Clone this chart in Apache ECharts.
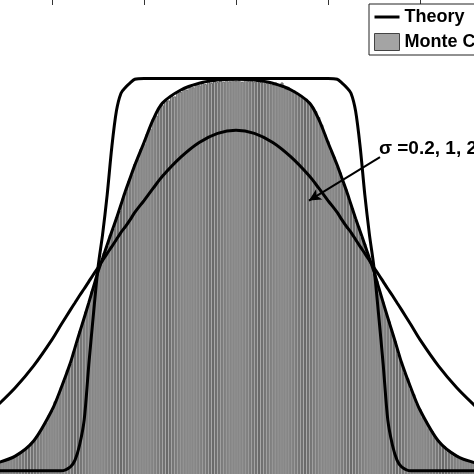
<!DOCTYPE html>
<html><head><meta charset="utf-8">
<script src="https://cdn.jsdelivr.net/npm/echarts@6/dist/echarts.min.js"></script>
<style>html,body{margin:0;padding:0;background:#fff;overflow:hidden}#c{width:474px;height:474px}</style>
</head><body><div id="c"></div>
<script>
// ---- data ----
const xTicks = [-3, -2, -1, 0, 1, 2, 3];
const xTheory = [-2.6,-2.4,-2.2,-2.0,-1.9,-1.8,-1.75,-1.7,-1.65,-1.6,-1.55,-1.5,-1.45,-1.4,-1.35,-1.3,-1.25,-1.2,-1.15,-1.1,-1.0,-0.9,-0.8,-0.6,-0.4,-0.2,
  0,
  0.2,0.4,0.6,0.8,0.9,1.0,1.1,1.15,1.2,1.25,1.3,1.35,1.4,1.45,1.5,1.55,1.6,1.65,1.7,1.75,1.8,1.9,2.0,2.2,2.4,2.6];
const theorySigma02 = [0.013,0.013,0.013,0.013,0.013,0.023,0.040,0.078,0.141,0.280,0.406,0.524,0.608,0.708,0.827,0.918,0.963,0.978,0.989,0.998,1.000,1.000,1.000,1.000,1.000,1.000,
  1.000,
  1.000,1.000,1.000,1.000,1.000,1.000,0.998,0.989,0.978,0.963,0.918,0.827,0.708,0.608,0.524,0.406,0.280,0.141,0.078,0.040,0.023,0.013,0.013,0.013,0.013,0.013];
const theorySigma1 = [0.033,0.050,0.088,0.166,0.222,0.285,0.323,0.361,0.398,0.436,0.475,0.514,0.548,0.582,0.615,0.648,0.683,0.718,0.750,0.782,0.839,0.897,0.938,0.971,0.988,0.996,
  0.998,
  0.996,0.988,0.971,0.938,0.897,0.839,0.782,0.750,0.718,0.683,0.648,0.615,0.582,0.548,0.514,0.475,0.436,0.398,0.361,0.323,0.285,0.222,0.166,0.088,0.050,0.033];
const theorySigma2 = [0.176,0.222,0.277,0.343,0.381,0.418,0.436,0.454,0.471,0.489,0.507,0.524,0.542,0.560,0.577,0.595,0.613,0.628,0.645,0.663,0.693,0.724,0.754,0.802,0.839,0.862,
  0.870,
  0.862,0.839,0.802,0.754,0.724,0.693,0.663,0.645,0.628,0.613,0.595,0.577,0.560,0.542,0.524,0.507,0.489,0.471,0.454,0.436,0.418,0.381,0.343,0.277,0.222,0.176];
const mcStart = -2.6;
const mcBin = 1 / 30;
const mcDensity = [
  0.034,0.036,0.037,0.041,0.042,0.048,0.051,0.054,0.061,0.066,
  0.072,0.082,0.087,0.101,0.110,0.124,0.135,0.153,0.165,0.188,
  0.201,0.224,0.241,0.267,0.283,0.313,0.333,0.364,0.384,0.414,
  0.433,0.465,0.486,0.517,0.534,0.562,0.579,0.607,0.623,0.651,
  0.668,0.698,0.715,0.742,0.758,0.785,0.797,0.823,0.836,0.861,
  0.874,0.899,0.907,0.926,0.933,0.946,0.945,0.957,0.955,0.968,
  0.966,0.977,0.972,0.982,0.978,0.987,0.983,0.991,0.986,0.994,
  0.989,0.993,0.991,0.995,0.992,0.996,0.993,0.997,
  0.995,
  0.996,0.992,0.997,0.994,0.998,0.992,0.996,0.991,0.995,0.989,
  0.993,0.985,0.990,0.984,0.990,0.975,0.979,0.969,0.970,0.962,
  0.958,0.951,0.949,0.940,0.930,0.918,0.903,0.884,0.860,0.843,
  0.818,0.804,0.779,0.764,0.736,0.721,0.692,0.674,0.645,0.629,
  0.601,0.585,0.556,0.540,0.511,0.491,0.459,0.439,0.408,0.389,
  0.358,0.339,0.307,0.288,0.261,0.246,0.219,0.206,0.182,0.169,
  0.148,0.139,0.120,0.113,0.097,0.090,0.078,0.075,0.063,0.062,
  0.053,0.052,0.045,0.044,0.039,0.039,0.034,0.034];
const legendNames = ['Theory', 'Monte Carlo'];
const annotationText = 'σ =0.2, 1, 2';

// ---- chart ----
const chart = echarts.init(document.getElementById('c'), null, {renderer: 'canvas'});
const gridLeft = -40, gridRight = -38;
const xMin = xTicks[0], xMax = xTicks[xTicks.length - 1];
const gridWidth = 474 - gridLeft - gridRight;
const barPx = gridWidth / (xMax - xMin) * mcBin;

const mcData = mcDensity.map((v, i) => [mcStart + i * mcBin, v]);
const lineSeries = (ys, extra) => Object.assign({
  type: 'line', name: 'Theory',
  data: xTheory.map((x, i) => [x, ys[i]]),
  symbol: 'none', showSymbol: false, smooth: 0.3,
  lineStyle: {color: '#000', width: 3}, itemStyle: {color: '#000'},
  z: 3, animation: false
}, extra || {});

chart.setOption({
  animation: false,
  backgroundColor: '#fff',
  grid: {left: gridLeft, right: gridRight, top: -1, bottom: -2, outerBoundsMode: 'none', containLabel: false},
  xAxis: {
    type: 'value', position: 'top', min: xMin, max: xMax, interval: 1,
    axisLine: {show: true, onZero: false, lineStyle: {color: '#000', width: 1}},
    axisTick: {show: true, inside: true, length: 6, lineStyle: {color: '#333', width: 1}},
    axisLabel: {show: false}, splitLine: {show: false}
  },
  yAxis: {type: 'value', min: 0, max: 1.2, show: false, splitLine: {show: false}},
  legend: {
    data: [
      {name: legendNames[0], icon: 'path://M0,0 L25,0 L25,3 L0,3 Z', itemStyle: {color: '#000', borderWidth: 0}},
      {name: legendNames[1], icon: 'rect', itemStyle: {color: '#a4a4a4', borderColor: '#444', borderWidth: 1}}
    ],
    orient: 'vertical', left: 369, top: 4,
    padding: [4, 40, 4, 5], itemGap: 7, itemWidth: 25, itemHeight: 17,
    borderColor: '#222', borderWidth: 1, backgroundColor: '#fff',
    textStyle: {fontFamily: 'Liberation Sans', fontWeight: 'bold', fontSize: 18, color: '#000'},
    selectedMode: false
  },
  series: [
    {
      type: 'bar', name: 'Monte Carlo', data: mcData, barWidth: barPx,
      itemStyle: {color: '#a8a8a8', borderColor: '#6a6a6a', borderWidth: 1},
      z: 1, animation: false
    },
    lineSeries(theorySigma02),
    lineSeries(theorySigma1),
    lineSeries(theorySigma2, {
      markLine: {
        silent: true, animation: false, symbol: ['none', 'arrow'], symbolSize: [9, 12],
        lineStyle: {color: '#000', width: 2, type: 'solid'}, label: {show: false},
        data: [[{coord: [1.565, 0.802]}, {coord: [0.793, 0.693]}]]
      }
    })
  ],
  graphic: [{
    type: 'text', left: 379, top: 139, z: 10,
    style: {text: annotationText, font: 'bold 19px "Liberation Sans"', fill: '#000'}
  }]
});
</script>
</body></html>
